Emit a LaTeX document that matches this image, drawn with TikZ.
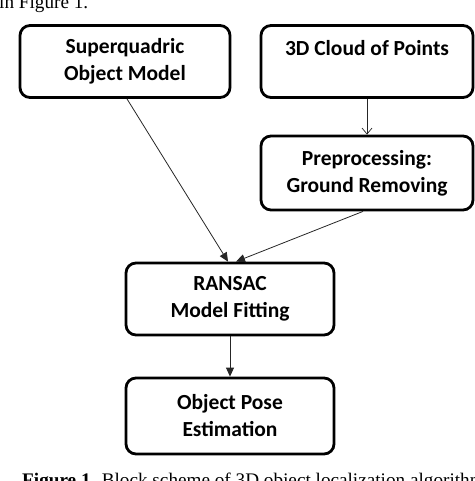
\documentclass[tikz,border=0pt]{standalone}
\usepackage{fontspec}
\setmainfont{Liberation Serif}
\newfontfamily\boxfont{Carlito}
\usetikzlibrary{arrows.meta}
\tikzset{
  blk/.style={draw=black, line width=2.8pt, rounded corners=10pt, fill=white,
    minimum width=210pt, minimum height=72pt, align=center,
    font=\boxfont\bfseries\fontsize{21.5}{27}\selectfont, inner sep=0pt},
  conn/.style={line width=0.8pt, draw=black!85},
  solidtip/.style={-{Triangle[length=9pt,width=8pt]}},
  opentip/.style={-{Straight Barb[length=6pt,width=10pt,line width=0.7pt]}},
  prose/.style={font=\fontsize{19.2}{21}\selectfont, inner sep=0pt}
}
\begin{document}
\begin{tikzpicture}[x=1pt,y=-1pt]
\useasboundingbox (0,0) rectangle (474,481);
\node[prose, anchor=base west] (intro) at (-1,9) {in Figure 1.};
\node[blk] (sq) at (125,61.5) {Superquadric\\Object Model};
\node[blk, minimum width=212pt] (cloud) at (367,61.5) {3D Cloud of Points\\\mbox{}};
\node[blk, minimum width=212pt, minimum height=74pt] (pre) at (367,173) {Preprocessing:\\Ground Removing};
\node[blk, minimum width=208pt] (ran) at (230,299) {RANSAC\\Model Fitting};
\node[blk, minimum width=208pt, minimum height=76pt] (pose) at (230,416) {Object Pose\\Estimation};
\draw[conn, opentip] (cloud.south) -- (pre.north);
\draw[conn, solidtip] ([xshift=2pt]sq.south) -- ([xshift=-2pt]ran.north);
\draw[conn, solidtip] ([xshift=-4pt]pre.south) -- ([xshift=6pt]ran.north);
\draw[conn, solidtip] (ran.south) -- (pose.north);
\node[prose, anchor=base west] (cap) at (22,486) {\textbf{Figure 1.} Block scheme of 3D object localization algorithm};
\end{tikzpicture}
\end{document}
